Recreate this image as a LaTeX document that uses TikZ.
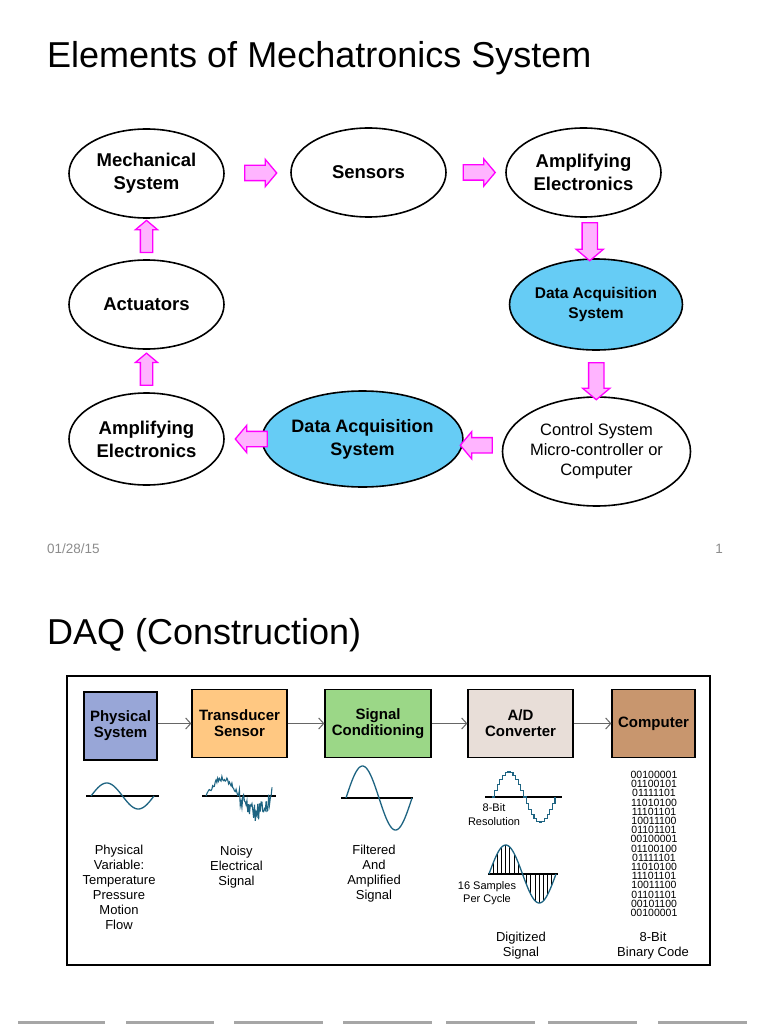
\documentclass[tikz,border=0pt]{standalone}
\usepackage{fontspec}
\setmainfont{Liberation Sans}
\usetikzlibrary{shapes.geometric,shapes.arrows,arrows.meta,calc}
\definecolor{pinkfill}{RGB}{255,180,255}
\definecolor{pinkline}{RGB}{255,0,255}
\definecolor{daqblue}{RGB}{102,204,245}
\definecolor{physblue}{RGB}{152,166,215}
\definecolor{tdorange}{RGB}{255,200,130}
\definecolor{scgreen}{RGB}{155,215,135}
\definecolor{adgray}{RGB}{232,222,216}
\definecolor{compbrown}{RGB}{200,150,110}
\definecolor{waveteal}{RGB}{30,100,130}
\definecolor{dategray}{RGB}{140,140,140}
\newcommand\myfs[2]{\fontsize{#1pt}{#2pt}\selectfont}
\tikzset{
  ell/.style={draw, ellipse, line width=1.6pt, inner sep=0pt, align=center, fill=white},
  bigtxt/.style={font=\bfseries\myfs{18.5}{23}},
  barrow/.style={single arrow, draw=pinkline, fill=pinkfill, line width=1.3pt, inner xsep=0pt, inner ysep=7pt,
     minimum height=#1, single arrow head extend=6pt, single arrow tip angle=100},
  barrow/.default=32pt,
  smallbarrow/.style={inner ysep=5.5pt, single arrow head extend=5pt},
  daqbox/.style={draw, line width=1.3pt, inner sep=0pt, align=center, font=\bfseries\myfs{15}{16}},
  flow/.style={draw=black!60, line width=1pt, -{Straight Barb[length=5pt,width=11pt]}},
  wave/.style={draw=waveteal, line width=1.3pt},
  axisl/.style={draw=black, line width=1.6pt},
  capt/.style={align=center, inner sep=0pt, anchor=north, font=\myfs{13}{15}},
  heading/.style={inner sep=0pt, anchor=base west, font=\myfs{36}{40}}
}
\begin{document}
\begin{tikzpicture}[x=1pt,y=-1pt]
\useasboundingbox[fill=white] (0,0) rectangle (768,1024);

% ---------- Slide 1 ----------
\node[heading] (title1) at (47,68) {Elements of Mechatronics System};

\node[ell, bigtxt, minimum width=155pt, minimum height=89pt] (mech) at (146.5,173.5) {Mechanical\\System};
\node[ell, bigtxt, minimum width=155pt, minimum height=89pt] (sens) at (368.5,172.5) {Sensors};
\node[ell, bigtxt, minimum width=155pt, minimum height=89pt] (amp1) at (583.5,172.5) {Amplifying\\Electronics};
\node[ell, fill=daqblue, font=\bfseries\myfs{15.5}{20}, minimum width=166pt, minimum height=91pt] (daq1) at (596,304.5) {Data Acquisition\\System};
\node[ell, font=\myfs{16.5}{20}, minimum width=179pt, minimum height=109pt] (ctrl) at (596.5,451.5) {Control System\\Micro-controller or\\Computer};
\node[ell, fill=daqblue, font=\bfseries\myfs{18}{23}, minimum width=177pt, minimum height=96pt] (daq2) at (362.5,439) {Data Acquisition\\System};
\node[ell, bigtxt, minimum width=155pt, minimum height=92pt] (amp2) at (146.5,439) {Amplifying\\Electronics};
\node[ell, bigtxt, minimum width=155pt, minimum height=89pt] (act) at (146.5,304.5) {Actuators};

\node[barrow=32pt] (a1) at ($(mech)!0.5!(sens)$) {};
\node[barrow=32pt] (a2) at ($(sens)!0.5!(amp1)$) {};
\node[barrow=38pt, rotate=-90] (a3) at ($(amp1)!0.5!(daq1)$) {};
\node[barrow=37pt, rotate=-90] (a4) at ($(daq1)!0.5!(ctrl)$) {};
\node[barrow=32pt, rotate=180] (a5) at ($(ctrl)!0.5!(daq2)$) {};
\node[barrow=32pt, rotate=180] (a6) at ($(daq2)!0.5!(amp2)$) {};
\node[barrow=32pt, smallbarrow, rotate=90] (a7) at ($(amp2)!0.5!(act)$) {};
\node[barrow=32pt, smallbarrow, rotate=90] (a8) at ($(act)!0.5!(mech)$) {};

\node[inner sep=0pt, anchor=base west, text=dategray, font=\myfs{13.5}{16}] (date) at (47,553) {01/28/15};
\node[inner sep=0pt, anchor=base east, text=dategray, font=\myfs{13.5}{16}] (page) at (723,553) {1};

% ---------- Slide 2 ----------
\node[heading] (title2) at (47,644) {DAQ (Construction)};

\draw[line width=2pt] (67,676) rectangle (710,965);

\node[daqbox, fill=physblue, minimum width=73pt, minimum height=68pt] (phys) at (120.5,726) {Physical\\System};
\node[daqbox, fill=tdorange, minimum width=95pt, minimum height=68pt] (trans) at (239.5,723.5) {Transducer\\Sensor};
\node[daqbox, fill=scgreen, minimum width=106pt, minimum height=68pt] (sig) at (378,723.5) {Signal\\Conditioning};
\node[daqbox, fill=adgray, minimum width=105pt, minimum height=68pt] (adc) at (520.5,723.5) {A/D\\Converter};
\node[daqbox, fill=compbrown, minimum width=83pt, minimum height=68pt] (comp) at (653.5,723.5) {Computer};

\path[flow] (phys.east |- trans.west) -- (trans.west);
\path[flow] (trans.east) -- (sig.west);
\path[flow] (sig.east) -- (adc.west);
\path[flow] (adc.east) -- (comp.west);

% physical sine
\draw[axisl] (86,796) -- (159,796);
\draw[wave] plot[domain=0:63, samples=60] ({91+\x}, {796-13*sin(\x/63*360)});
% noisy
\draw[axisl] (202,796) -- (276,796);
\pgfmathsetseed{11}
\draw[wave, line width=1.1pt] plot[domain=0:66, samples=80] ({206+\x}, {796-17*sin(\x/66*360)+(3+6*(\x>33))*rand});
% filtered amplified
\draw[axisl] (341,798) -- (413,798);
\draw[wave] plot[domain=0:66, samples=70] ({346+\x}, {798-32*sin(\x/66*360)});
% stepped 8-bit
\draw[axisl] (485,797) -- (562,797);
\draw[wave, line width=1.1pt] plot[const plot, domain=0:24, samples=25] ({492+\x/24*63}, {797-25*sin(\x*15)});
% sampled
\draw[axisl] (488,874) -- (558,874);
\foreach \k in {1,...,7,9,10,...,15}{
  \draw[black, line width=0.9pt] ({489+\k/16*67},874) -- ({489+\k/16*67},{874-29*sin(\k*22.5)});
}
\draw[wave] plot[domain=0:67, samples=70] ({489+\x}, {874-29*sin(\x/67*360)});

\node[capt] (c1) at (119,845) {Physical\\Variable:\\Temperature\\Pressure\\Motion\\Flow};
\node[capt] (c2) at (236.5,846) {Noisy\\Electrical\\Signal};
\node[capt] (c3) at (374,845) {Filtered\\And\\Amplified\\Signal};
\node[capt, font=\myfs{11}{14}] (c4) at (494,803) {8-Bit\\Resolution};
\node[capt, font=\myfs{11}{13}] (c5) at (487,881) {16 Samples\\Per Cycle};
\node[capt] (c6) at (521,932) {Digitized\\Signal};
\node[capt] (c7) at (653,932) {8-Bit\\Binary Code};
\node[capt, font=\myfs{10.5}{9.2}] (bin) at (654,771) {00100001\\01100101\\01111101\\11010100\\11101101\\10011100\\01101101\\00100001\\01100100\\01111101\\11010100\\11101101\\10011100\\01101101\\00101100\\00100001};

% bottom strip (next slide edges)
\foreach \a/\b in {18/105,126/214,234/323,343/432,446/535,548/637,658/747}{
  \fill[black!35] (\a,1021) rectangle (\b,1024);
}
\end{tikzpicture}
\end{document}
